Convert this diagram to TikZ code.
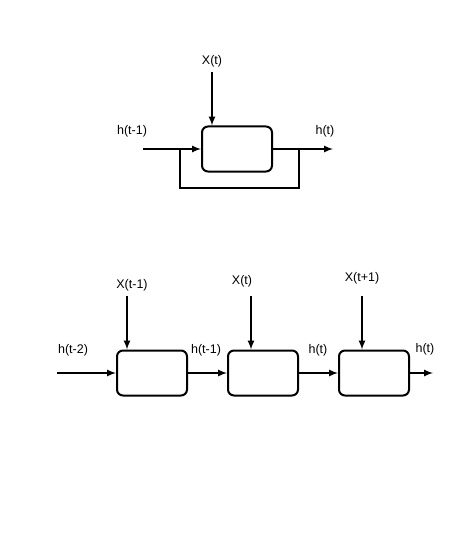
\documentclass[tikz,border=0pt]{standalone}
\usepackage{fontspec}
\setmainfont{Liberation Sans}
\usetikzlibrary{positioning}

\begin{document}
\begin{tikzpicture}[x=1pt, y=-1pt, ->, >=latex, line width=2pt, node distance=111pt,
    cell/.style={draw, rounded corners=6pt, minimum width=70pt, minimum height=45pt},
    lbl/.style={font=\fontsize{12.5}{14}\selectfont}]
    \useasboundingbox (0,0) rectangle (474,548);

    % single cell with loop
    \node[cell] (R) at (237,149) {};
    \node[lbl] (Rx) at (212,61) {X(t)};
    \node[lbl] (Rin) at (132,131) {h(t-1)};
    \node[lbl] (Rout) at (325,131) {h(t)};
    \coordinate (Rxs) at (212,72);
    \coordinate (Rs) at (143,149);
    \coordinate (Re) at (333,149);
    \coordinate (Ra) at (180,149);
    \coordinate (Rb) at (299,149);

    \draw (Rxs) -- (Rxs |- R.north);
    \draw (Rs) -- (R.west);
    \draw (R.east) -- (Re);
    \draw[-] (Ra) -- ++(0,39) -| (Rb);

    % unrolled
    \node[cell] (A) at (152,373) {};
    \node[cell] (B) [right of=A] {};
    \node[cell] (C) [right of=B] {};

    \node[lbl] (Ax) at (132,285) {X(t-1)};
    \node[lbl] (Bx) at (242,281) {X(t)};
    \node[lbl] (Cx) at (362,278) {X(t+1)};
    \node[lbl] (Ain) at (73,350) {h(t-2)};
    \node[lbl] (Ah) at (206,350) {h(t-1)};
    \node[lbl] (Bh) at (318,350) {h(t)};
    \node[lbl] (Ch) at (425,349) {h(t)};

    \coordinate (Axs) at (127,296);
    \coordinate (Bxs) at (251,296);
    \coordinate (Cxs) at (362,296);
    \coordinate (As) at (57,373);
    \coordinate (Ce) at (433,373);

    \draw (Axs) -- (Axs |- A.north);
    \draw (Bxs) -- (Bxs |- B.north);
    \draw (Cxs) -- (Cxs |- C.north);
    \draw (As) -- (A.west);
    \path (A) edge (B);
    \path (B) edge (C);
    \draw (C.east) -- (Ce);
\end{tikzpicture}
\end{document}
